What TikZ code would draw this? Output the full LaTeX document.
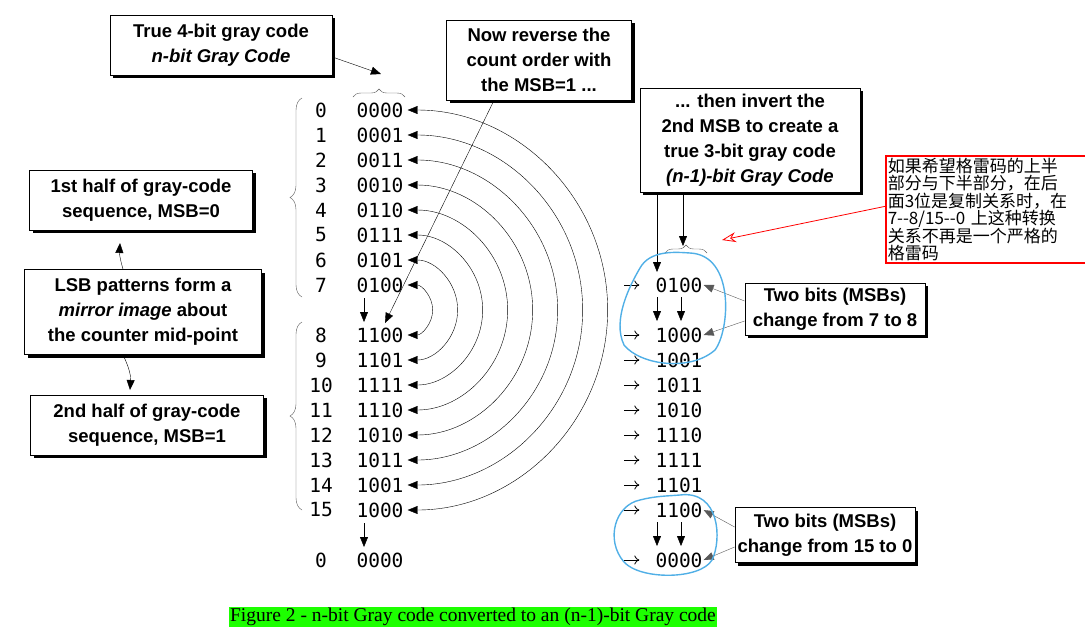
\documentclass[tikz,border=0pt]{standalone}
\usepackage{fontspec}
\setmainfont{Liberation Sans}
\newfontfamily\codefont{DejaVu Sans Mono}
\newfontfamily\capfont{Liberation Serif}
\newfontfamily\cjk{Noto Sans CJK SC}
\usetikzlibrary{shadows,decorations.pathreplacing,arrows.meta}
\begin{document}
\begin{tikzpicture}[x=1pt,y=-1pt,
  box/.style={draw,thick,fill=white,align=center,font=\fontsize{18.5}{25}\selectfont\bfseries,
    drop shadow={shadow xshift=3pt,shadow yshift=-3pt,fill=black,opacity=1},inner sep=0pt},
  code/.style={font=\codefont\fontsize{19.5}{20}\selectfont,inner sep=1pt},
  arr/.style={-{Triangle[length=10pt,width=8pt]}},
  thinarr/.style={thin,-{Triangle[length=10pt,width=8pt]}},
  brace/.style={draw=gray!70!black,decorate,decoration={brace,amplitude=8pt}},
  cyanl/.style={draw=cyan!80!blue!70,line width=1.4pt}]
\useasboundingbox (0,0) rectangle (1085,641);
% boxes
\node[box,minimum width=222pt,minimum height=60pt] (bTrue) at (221,45) {True 4-bit gray code\\\textit{n-bit Gray Code}};
\node[box,minimum width=185pt,minimum height=80pt] (bRev) at (539,60) {Now reverse the\\count order with\\the MSB=1 ...};
\node[box,minimum width=220pt,minimum height=104pt] (bInv) at (750,140) {... then invert the\\2nd MSB to create a\\true 3-bit gray code\\\textit{(n-1)-bit Gray Code}};
\node[box,minimum width=223pt,minimum height=60pt] (b1st) at (141,200) {1st half of gray-code\\sequence, MSB=0};
\node[box,minimum width=237pt,minimum height=85pt] (bLSB) at (143,312) {LSB patterns form a\\\textit{mirror image} about\\the counter mid-point};
\node[box,minimum width=233pt,minimum height=60pt] (b2nd) at (147,425) {2nd half of gray-code\\sequence, MSB=1};
\node[box,minimum width=180pt,minimum height=52pt] (bT78) at (835,309) {Two bits (MSBs)\\change from 7 to 8};
\node[box,minimum width=180pt,minimum height=55pt] (bT150) at (825,535) {Two bits (MSBs)\\change from 15 to 0};
\node[draw=red,line width=1.5pt,fill=white,align=left,anchor=north west,inner sep=2pt,
  font=\cjk\fontsize{17}{17.5}\selectfont,text width=200pt] (bCN) at (885,155)
  {如果希望格雷码的上半\\部分与下半部分，在后\\面3位是复制关系时，在\\7-{}-8/15-{}-0 上这种转换\\关系不再是一个严格的\\格雷码};
% caption
\node[fill=green!85!lime,inner sep=1pt,font=\capfont\fontsize{19.5}{20}\selectfont] (cap) at (473,617)
  {Figure 2 - n-bit Gray code converted to an (n-1)-bit Gray code};
% left column
\foreach \n/\c [count=\i from 0] in {0/0000,1/0001,2/0011,3/0010,4/0110,5/0111,6/0101,7/0100,8/1100,9/1101,10/1111,11/1110,12/1010,13/1011,14/1001,15/1000}{
  \pgfmathsetmacro{\yy}{\i<8 ? 110+25*\i : 135+25*\i}
  \node[code] (N\i) at (321,\yy) {\n};
  \node[code] (L\i) at (380,\yy) {\c};}
\node[code] (N16) at (321,560) {0};
\node[code] (L16) at (380,560) {0000};
% arcs
\foreach \i in {0,...,7}{
  \pgfmathsetmacro{\r}{200-25*\i}
  \draw[thin,{Triangle[length=10pt,width=8pt]}-{Triangle[length=10pt,width=8pt]}] (L\i.east) ++(3,0) coordinate (s\i)
     arc[start angle=90,end angle=-90,radius=\r pt];}
% down arrows left
\coordinate (d1) at (364,298); \coordinate (d1e) at (364,322);
\draw[arr] (d1) -- (d1e);
\coordinate (d2) at (364,523); \coordinate (d2e) at (364,547);
\draw[arr] (d2) -- (d2e);
\coordinate (rv) at (385,323);
\draw[thinarr] (bRev.south) ++(-45,0) coordinate (rvs) -- (rv);
% right column
\foreach \c [count=\i from 0] in {0100,1000,1001,1011,1010,1110,1111,1101,1100}{
  \pgfmathsetmacro{\yy}{\i==0 ? 285 : 310+25*\i}
  \node[code] (R\i) at (679,\yy) {\c};
  \draw[thick,-{To[length=5pt,width=9pt]}] (R\i.west) ++(-30,0) coordinate (ra\i) -- ++(15,0);}
\node[code] (R9) at (679,560) {0000};
\draw[thick,-{To[length=5pt,width=9pt]}] (R9.west) ++(-30,0) coordinate (ra9) -- ++(15,0);
\foreach \yy in {297,522}{
  \draw[arr] (657,\yy) -- (657,\yy+24);
  \draw[arr] (681,\yy) -- (681,\yy+24);}
% braces
\draw[brace] (353,97) -- (405,97);
\draw[brace] (665,253) -- (707,253);
\draw[brace,decoration={amplitude=12pt}] (302,297) -- (302,98);
\draw[brace,decoration={amplitude=12pt}] (302,510) -- (302,322);
% box arrows
\draw[thinarr] (bTrue.east) ++(0,12) -- (381,74);
\draw[arr] (bInv.south) ++(-93,0) -- (657,272);
\draw[arr] (bInv.south) ++(-67,0) -- (683,246);
\draw[thinarr] (bLSB.north) ++(-20,0) to[bend left=10] (120,243);
\draw[thinarr] (bLSB.south) ++(-20,0) to[bend left=15] (130,390);
\draw[thinarr,gray!70!black] (bT78.west) ++(0,-8) -- (R0.east);
\draw[thinarr,gray!70!black] (bT78.west) ++(0,12) -- (R1.east);
\draw[thinarr,gray!70!black] (bT150.west) ++(0,-8) -- (R8.east);
\draw[thinarr,gray!70!black] (bT150.west) ++(0,12) -- (R9.east);
\draw[red,thick,-{Stealth[length=14pt,width=10pt,open]}] (bCN.west) ++(0,-3) -- (722,240);
% cyan blobs
\draw[cyanl] (690,253) .. controls (735,255) and (730,330) .. (715,350)
  .. controls (690,372) and (640,365) .. (624,345)
  .. controls (612,320) and (630,285) .. (640,268)
  .. controls (650,250) and (675,252) .. (690,253);
\draw[cyanl] (680,495) .. controls (720,490) and (722,540) .. (712,560)
  .. controls (700,580) and (640,580) .. (624,562)
  .. controls (605,540) and (615,505) .. (640,500)
  .. controls (655,496) and (668,496) .. (680,495);
\end{tikzpicture}
\end{document}
